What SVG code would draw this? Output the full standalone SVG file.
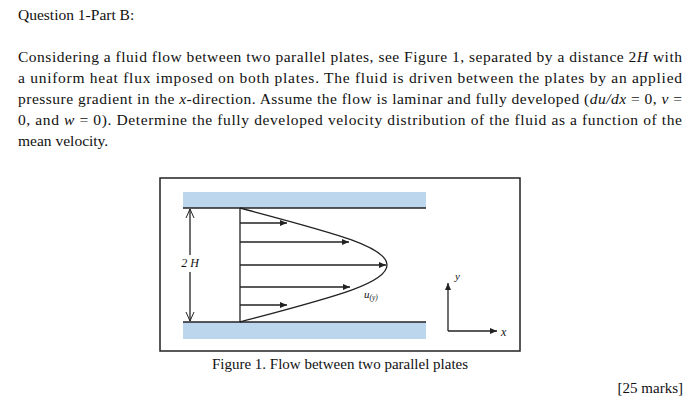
<svg xmlns="http://www.w3.org/2000/svg" width="700" height="413" viewBox="0 0 700 413">
<style>
text{font-family:"Liberation Serif","Times New Roman",serif;fill:#111}
.p{font-size:15.5px}
.ln{stroke:#222;stroke-width:1.3;fill:none}
.plate{fill:#bcd6ee}
</style>
<defs>
<marker id="a" markerWidth="8" markerHeight="8" refX="7" refY="4" orient="auto" markerUnits="userSpaceOnUse"><path d="M0,1 L7,4 L0,7z" fill="#222"/></marker>
<marker id="o" markerWidth="10" markerHeight="10" refX="9" refY="5" orient="auto" markerUnits="userSpaceOnUse"><path d="M0,1 L9,5 L0,9" fill="none" stroke="#222" stroke-width="1"/></marker>
</defs>
<rect width="700" height="413" fill="#fff"/>
<text x="18" y="20" class="p">Question 1-Part B:</text>
<text x="18" y="62" class="p" textLength="664" lengthAdjust="spacing">Considering a fluid flow between two parallel plates, see Figure 1, separated by a distance 2<tspan font-style="italic">H</tspan> with</text>
<text x="18" y="83" class="p" textLength="664" lengthAdjust="spacing">a uniform heat flux imposed on both plates. The fluid is driven between the plates by an applied</text>
<text x="18" y="104" class="p" textLength="664" lengthAdjust="spacing">pressure gradient in the <tspan font-style="italic">x</tspan>-direction. Assume the flow is laminar and fully developed (<tspan font-style="italic">du/dx</tspan> = 0, <tspan font-style="italic">v</tspan> =</text>
<text x="18" y="125" class="p" textLength="664" lengthAdjust="spacing">0, and <tspan font-style="italic">w</tspan> = 0). Determine the fully developed velocity distribution of the fluid as a function of the</text>
<text x="18" y="146" class="p">mean velocity.</text>
<rect x="160" y="178" width="360" height="173" fill="none" stroke="#222" stroke-width="1.5"/>
<g id="top-plate"><rect class="plate" x="183" y="192" width="243" height="16"/><line class="ln" x1="183" y1="208" x2="426" y2="208"/></g>
<g id="bottom-plate"><rect class="plate" x="183" y="322" width="243" height="17"/><line class="ln" x1="183" y1="322" x2="426" y2="322"/></g>
<g id="profile">
<line class="ln" x1="240" y1="208" x2="240" y2="322"/>
<path class="ln" d="M240,208 C330,232 387,246 387,265 C387,284 330,298 240,322"/>
<text x="364" y="298" font-size="11" font-style="italic">u<tspan font-size="7.5" dy="2">(y)</tspan></text>
</g>
<g id="connectors">
<line class="ln" x1="240" y1="223" x2="287" y2="223" marker-end="url(#a)"/>
<line class="ln" x1="240" y1="242" x2="349" y2="242" marker-end="url(#a)"/>
<line class="ln" x1="240" y1="265" x2="386" y2="265" marker-end="url(#a)"/>
<line class="ln" x1="240" y1="287" x2="350" y2="287" marker-end="url(#a)"/>
<line class="ln" x1="240" y1="305" x2="287" y2="305" marker-end="url(#a)"/>
<line class="ln" x1="190" y1="255" x2="190" y2="209" marker-end="url(#o)"/>
<line class="ln" x1="190" y1="272" x2="190" y2="321" marker-end="url(#o)"/>
<line class="ln" x1="448" y1="331" x2="448" y2="283" marker-end="url(#a)"/>
<line class="ln" x1="448" y1="331" x2="497" y2="331" marker-end="url(#a)"/>
</g>
<text x="190" y="267" font-size="12" font-style="italic" text-anchor="middle">2 H</text>
<text x="455" y="280" font-size="11" font-style="italic">y</text>
<text x="501" y="336" font-size="12" font-style="italic">x</text>
<text x="340" y="369" font-size="15" text-anchor="middle">Figure 1. Flow between two parallel plates</text>
<text x="683" y="393" font-size="15" text-anchor="end">[25 marks]</text>
</svg>
